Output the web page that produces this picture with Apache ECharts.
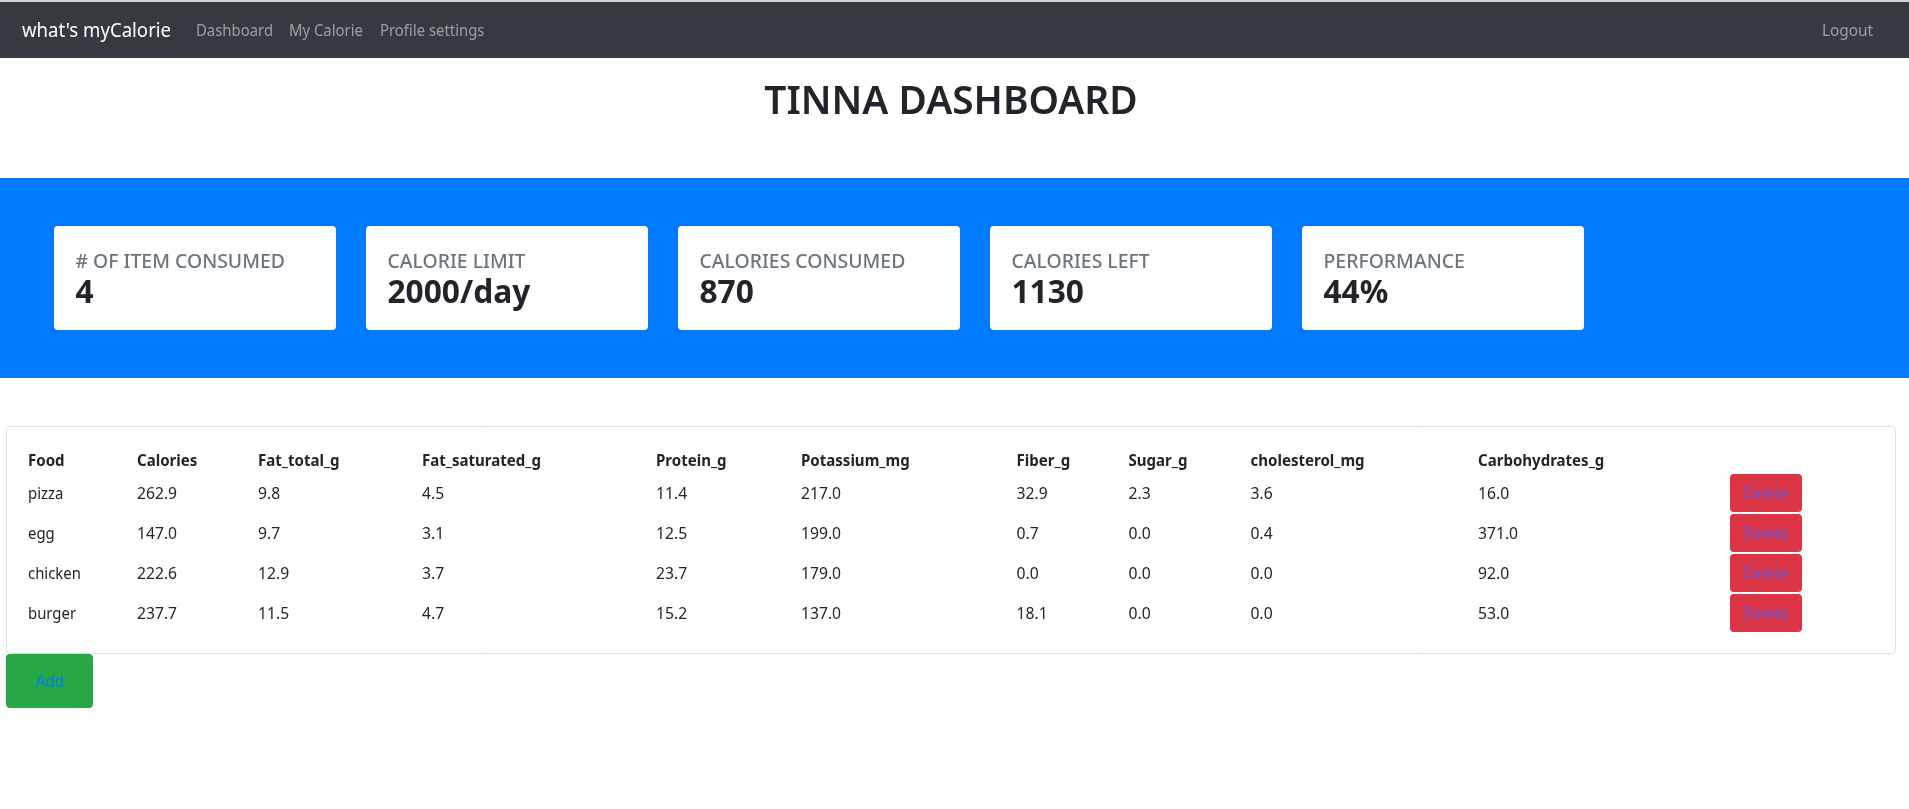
<!DOCTYPE html>
<html lang="en">
<head>
    <meta charset="UTF-8">
    <title>what's myCalorie</title>
    <style>
        html, body { margin: 0; padding: 0; background: #fff; overflow: hidden; }
        #main { width: 1909px; height: 809px; }
    </style>
</head>
<body>
<div id="main"></div>
<script src="https://cdn.jsdelivr.net/npm/echarts@6/dist/echarts.min.js"></script>
<script type="text/javascript">
    // page text
    var brand = "what's myCalorie";
    var navLinks = ['Dashboard', 'My Calorie', 'Profile settings'];
    var pageTitle = 'TINNA DASHBOARD';

    // stat cards
    var cardLabels = ['# OF ITEM CONSUMED', 'CALORIE LIMIT', 'CALORIES CONSUMED', 'CALORIES LEFT', 'PERFORMANCE'];
    var cardValues = ['4', '2000/day', '870', '1130', '44%'];

    // table
    var columns = ['Food', 'Calories', 'Fat_total_g', 'Fat_saturated_g', 'Protein_g', 'Potassium_mg', 'Fiber_g', 'Sugar_g', 'cholesterol_mg', 'Carbohydrates_g'];
    var food = ['pizza', 'egg', 'chicken', 'burger'];
    var calories = ['262.9', '147.0', '222.6', '237.7'];
    var fatTotal = ['9.8', '9.7', '12.9', '11.5'];
    var fatSaturated = ['4.5', '3.1', '3.7', '4.7'];
    var protein = ['11.4', '12.5', '23.7', '15.2'];
    var potassium = ['217.0', '199.0', '179.0', '137.0'];
    var fiber = ['32.9', '0.7', '0.0', '18.1'];
    var sugar = ['2.3', '0.0', '0.0', '0.0'];
    var cholesterol = ['3.6', '0.4', '0.0', '0.0'];
    var carbohydrates = ['16.0', '371.0', '92.0', '53.0'];
    var tableData = [food, calories, fatTotal, fatSaturated, protein, potassium, fiber, sugar, cholesterol, carbohydrates];

    // layout, in px
    var navX = [196, 289, 380];
    var columnX = [28, 137, 258, 422, 656, 801, 1016.5, 1128.5, 1250.5, 1478];
    var FONT = '"Noto Sans", sans-serif';

    var items = [];

    function box(x, y, w, h, fill, r, stroke) {
        items.push({
            type: 'rect',
            shape: {x: x, y: y, width: w, height: h, r: r || 0},
            style: {fill: fill, stroke: stroke || null, lineWidth: stroke ? 1 : 0}
        });
    }

    // squeeze narrows Noto Sans to the width of the original UI font
    function label(text, x, y, size, color, weight, align, squeeze) {
        items.push({
            type: 'text',
            x: x,
            y: y,
            scaleX: squeeze || 0.93,
            style: {
                text: text,
                fill: color,
                font: (weight || 400) + ' ' + size + 'px ' + FONT,
                textAlign: align || 'left',
                textVerticalAlign: 'middle'
            }
        });
    }

    // navbar
    box(0, 0, 1909, 2, '#d4d4d4');
    box(0, 2, 1909, 56, '#343a40');
    label(brand, 22, 31, 20, '#ffffff');
    for (var i = 0; i < navLinks.length; i++) {
        label(navLinks[i], navX[i], 31, 16, 'rgba(255,255,255,0.5)');
    }
    label('Logout', 1822, 31, 16, 'rgba(255,255,255,0.5)', 400, 'left', 0.96);

    // title
    label(pageTitle, 951, 103, 40, '#212529', 600, 'center', 0.97);

    // blue band with the cards
    box(0, 178, 1909, 200, '#007bff');
    for (var c = 0; c < cardLabels.length; c++) {
        var cardX = 54 + c * 312;
        box(cardX, 226, 282, 104, '#ffffff', 4);
        label(cardLabels[c], cardX + 21.5, 262, 20, '#6c757d', 500, 'left', 0.97);
        label(cardValues[c], cardX + 21.5, 294, 32, '#212529', 700, 'left', 0.99);
    }

    // table card
    box(6.5, 426.5, 1889, 227, '#ffffff', 4, '#dfdfdf');
    for (var k = 0; k < columns.length; k++) {
        label(columns[k], columnX[k], 461, 16, '#212529', 700, 'left', 0.94);
        for (var r = 0; r < food.length; r++) {
            // digits run a little wider than letters in the original font
            label(tableData[k][r], columnX[k], 494 + r * 40, 16, '#212529', 400, 'left', k > 0 ? 0.98 : 0.93);
        }
    }
    for (var b = 0; b < food.length; b++) {
        box(1730, 474 + b * 40, 72, 38, '#dc3545', 4);
        label('Delete', 1766, 494 + b * 40, 16, '#6a55d6', 400, 'center');
    }

    // add button
    box(6, 654, 87, 54, '#28a745', 4);
    label('Add', 50, 682, 16, '#007bff', 400, 'center');

    var myChart = echarts.init(document.getElementById('main'));
    myChart.setOption({
        animation: false,
        graphic: {elements: items}
    });
</script>
</body>
</html>
